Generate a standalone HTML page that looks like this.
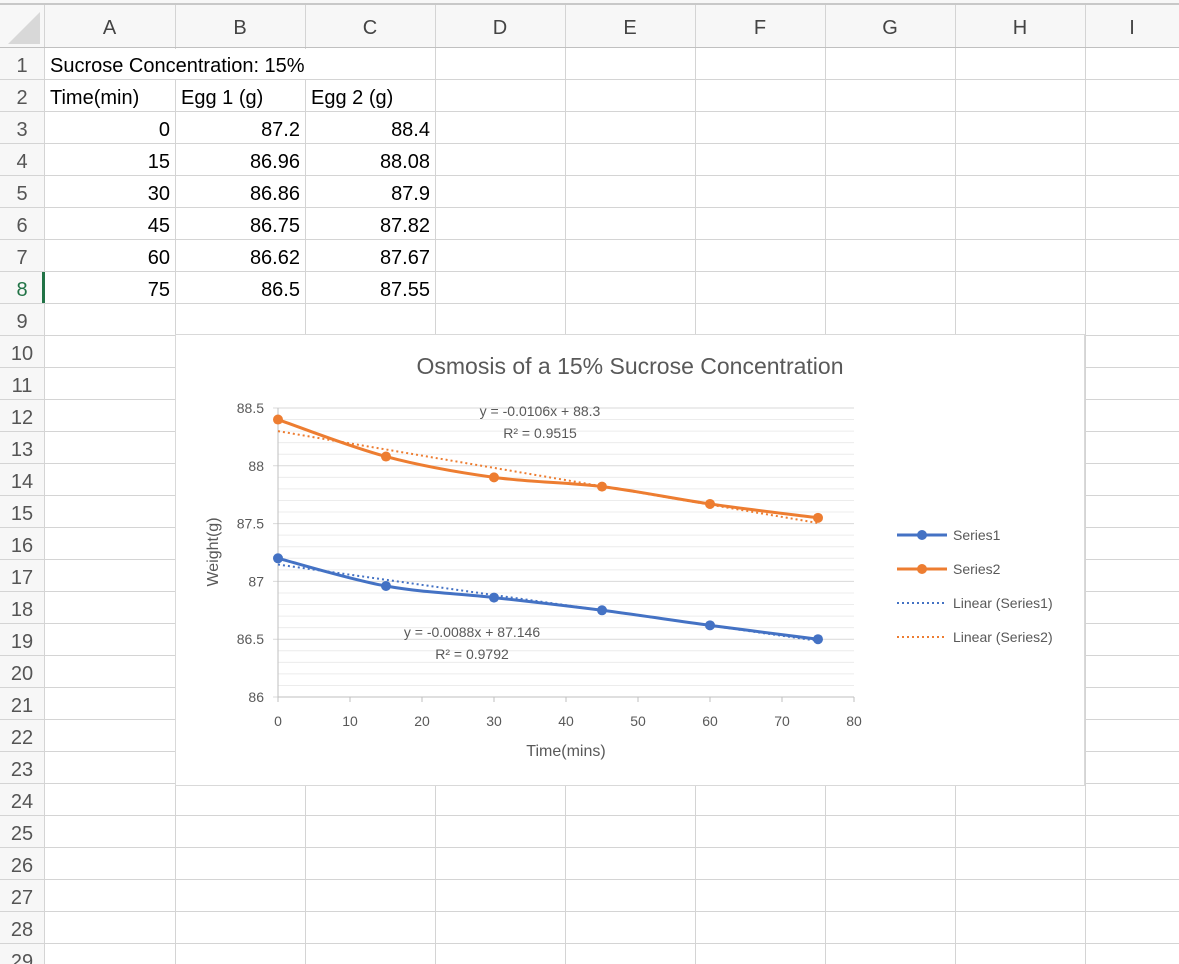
<!DOCTYPE html>
<html><head><meta charset="utf-8"><style>
body{margin:0;width:1179px;height:964px;overflow:hidden;background:#fff;font-family:"Liberation Sans",Arial,sans-serif;}
svg{display:block}
</style></head><body>
<svg id="s" width="1179" height="964" xmlns="http://www.w3.org/2000/svg">
<g id="grid"></g>
<g id="chart"></g>
</svg>
<script>
const times=[0,15,30,45,60,75];
const egg1=[87.2,86.96,86.86,86.75,86.62,86.5];
const egg2=[88.4,88.08,87.9,87.82,87.67,87.55];
const egg1Txt=["87.2","86.96","86.86","86.75","86.62","86.5"];
const egg2Txt=["88.4","88.08","87.9","87.82","87.67","87.55"];
const yTicks=[86,86.5,87,87.5,88,88.5];
const xTicks=[0,10,20,30,40,50,60,70,80];
const trend1=[-0.0088,87.146];
const trend2=[-0.0106,88.3];

const NS="http://www.w3.org/2000/svg";
function mk(p,tag,at,txt){const e=document.createElementNS(NS,tag);for(const k in at)e.setAttribute(k,at[k]);if(txt!==undefined)e.textContent=txt;p.appendChild(e);return e;}
const G=document.getElementById('grid');
const colX=[0,44,175,305,435,565,695,825,955,1085,1179];
const letters=["A","B","C","D","E","F","G","H","I"];
const rowTop=n=>48+32*(n-1);
// header background
mk(G,'rect',{x:0,y:0,width:1179,height:47,fill:'#f7f7f7'});
mk(G,'rect',{x:0,y:0,width:44,height:964,fill:'#f7f7f7'});
mk(G,'line',{x1:0,y1:4,x2:1179,y2:4,stroke:'#c8c8c8','stroke-width':2});
mk(G,'polygon',{points:'40,12 40,44 8,44',fill:'#d8d8d8'});
for(let i=0;i<letters.length;i++){
  const t=mk(G,'text',{x:(colX[i+1]+colX[i+2])/2,y:34,'text-anchor':'middle','font-size':20,fill:'#444'},letters[i]);
  
  
}
for(let i=1;i<colX.length-1;i++) mk(G,'line',{x1:colX[i]+.5,y1:5,x2:colX[i]+.5,y2:964,stroke:'#d4d4d4'});
mk(G,'line',{x1:0,y1:47.5,x2:1179,y2:47.5,stroke:'#c0c0c0'});
for(let r=1;r<=29;r++){
  const y=rowTop(r);
  mk(G,'line',{x1:0,y1:y+31.5,x2:1179,y2:y+31.5,stroke:'#d4d4d4'});
  const t=mk(G,'text',{x:22,y:y+24,'text-anchor':'middle','font-size':20,fill:r===8?'#217346':'#555'},String(r));
  
  
}
mk(G,'rect',{x:42,y:rowTop(8),width:3,height:31,fill:'#217346'});
// cells
function cell(txt,col,row,right,name){
  const x=right?colX[col+2]-5:colX[col+1]+6;
  const t=mk(G,'text',{x:x,y:rowTop(row)+24,'text-anchor':right?'end':'start','font-size':20,fill:'#000'},txt);
  
  
}
// white backgrounds for spanning text
mk(G,'rect',{x:45,y:49,width:389,height:30,fill:'#fff'});
cell("Sucrose Concentration: 15%",0,1,false,'title-cell');
cell("Time(min)",0,2,false,'time-header-cell');
cell("Egg 1 (g)",1,2,false,'egg1-header-cell');
cell("Egg 2 (g)",2,2,false,'egg2-header-cell');
for(let i=0;i<times.length;i++){
  cell(String(times[i]),0,3+i,true,'time-cell');
  cell(egg1Txt[i],1,3+i,true,'egg1-cell');
  cell(egg2Txt[i],2,3+i,true,'egg2-cell');
}
// chart
const C=document.getElementById('chart');
mk(C,'rect',{x:175.5,y:334.5,width:909,height:451,fill:'#fff',stroke:'#d9d9d9'});
const X0=278,X1=854,Y0=697,Y1=408,ymin=86,ymax=88.5;
const sx=v=>X0+(v-0)/(80)*(X1-X0);
const sy=v=>Y0-(v-ymin)/(ymax-ymin)*(Y0-Y1);
let t=mk(C,'text',{x:630,y:374,'text-anchor':'middle','font-size':23,fill:'#595959'},'Osmosis of a 15% Sucrose Concentration');

for(let v=86.1;v<88.5;v+=0.1){ if(Math.abs(v*2-Math.round(v*2))<1e-6)continue; mk(C,'line',{x1:X0,y1:sy(v),x2:X1,y2:sy(v),stroke:'#ececec'});}
yTicks.forEach(v=>{
  mk(C,'line',{x1:X0-5,y1:sy(v),x2:X1,y2:sy(v),stroke:'#d9d9d9'});
  const e=mk(C,'text',{x:X0-14,y:sy(v)+5,'text-anchor':'end','font-size':14,fill:'#595959'},String(v));
  
});
mk(C,'line',{x1:X0,y1:Y1,x2:X0,y2:Y0,stroke:'#bfbfbf'});
mk(C,'line',{x1:X0,y1:Y0,x2:X1,y2:Y0,stroke:'#bfbfbf'});
xTicks.forEach(v=>{
  mk(C,'line',{x1:sx(v),y1:Y0,x2:sx(v),y2:Y0+5,stroke:'#bfbfbf'});
  const e=mk(C,'text',{x:sx(v),y:Y0+29,'text-anchor':'middle','font-size':14,fill:'#595959'},String(v));
  
});
t=mk(C,'text',{x:566,y:756,'text-anchor':'middle','font-size':16,fill:'#595959'},'Time(mins)');

t=mk(C,'text',{x:0,y:0,'text-anchor':'middle','font-size':16,fill:'#595959',transform:'translate(218,552) rotate(-90)'},'Weight(g)');

function smooth(xs,ys){
  const P=xs.map((x,i)=>[sx(x),sy(ys[i])]);
  let d='M'+P[0][0]+','+P[0][1];
  for(let i=0;i<P.length-1;i++){
    const p0=P[Math.max(i-1,0)],p1=P[i],p2=P[i+1],p3=P[Math.min(i+2,P.length-1)];
    const k=1/6;
    d+=` C${p1[0]+(p2[0]-p0[0])*k},${p1[1]+(p2[1]-p0[1])*k} ${p2[0]-(p3[0]-p1[0])*k},${p2[1]-(p3[1]-p1[1])*k} ${p2[0]},${p2[1]}`;
  }
  return d;
}
function series(ys,col,tr,name){
  let e=mk(C,'path',{d:smooth(times,ys),fill:'none',stroke:col,'stroke-width':3});
  
  ys.forEach((v,i)=>{
    const c=mk(C,'circle',{cx:sx(times[i]),cy:sy(v),r:5,fill:col});
    
  });
  const xa=times[0],xb=times[times.length-1];
  e=mk(C,'line',{x1:sx(xa),y1:sy(tr[0]*xa+tr[1]),x2:sx(xb),y2:sy(tr[0]*xb+tr[1]),stroke:col,'stroke-width':2,'stroke-dasharray':'2 3'});
  
}
series(egg2,'#ed7d31',trend2,'series2');
series(egg1,'#4472c4',trend1,'series1');
function lbl(x,y,s,n){const e=mk(C,'text',{x:x,y:y,'text-anchor':'middle','font-size':14,fill:'#595959'},s);}
lbl(540,416,'y = -0.0106x + 88.3','trend2-equation');
lbl(540,438,'R² = 0.9515','trend2-r2');
lbl(472,637,'y = -0.0088x + 87.146','trend1-equation');
lbl(472,659,'R² = 0.9792','trend1-r2');
const leg=[['Series1','#4472c4',false,535],['Series2','#ed7d31',false,569],['Linear (Series1)','#4472c4',true,603],['Linear (Series2)','#ed7d31',true,637]];
leg.forEach(l=>{
  const g=mk(C,'g',{});
  
  if(l[2]) mk(g,'line',{x1:897,y1:l[3],x2:947,y2:l[3],stroke:l[1],'stroke-width':2,'stroke-dasharray':'2 3'});
  else {mk(g,'line',{x1:897,y1:l[3],x2:947,y2:l[3],stroke:l[1],'stroke-width':3});mk(g,'circle',{cx:922,cy:l[3],r:5,fill:l[1]});}
  mk(g,'text',{x:953,y:l[3]+5,'font-size':14,fill:'#595959'},l[0]);
});
</script>
</body></html>
